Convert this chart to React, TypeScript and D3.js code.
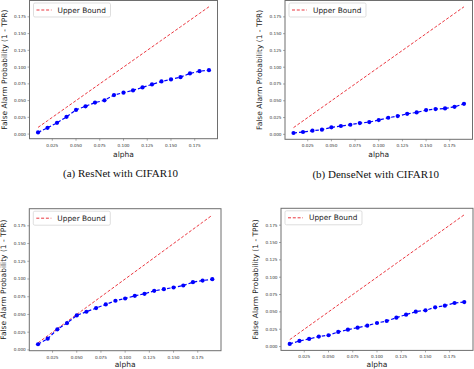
import React from "react";
import * as d3 from "d3";

const alpha = [0.01, 0.02, 0.03, 0.04, 0.05, 0.06, 0.07, 0.08, 0.09, 0.1, 0.11, 0.12, 0.13, 0.14, 0.15, 0.16, 0.17, 0.18, 0.19];
const upperBound = [0.01, 0.02, 0.03, 0.04, 0.05, 0.06, 0.07, 0.08, 0.09, 0.1, 0.11, 0.12, 0.13, 0.14, 0.15, 0.16, 0.17, 0.18, 0.19];
const resnetCifar10 = [0.0025, 0.0094, 0.0168, 0.0257, 0.0361, 0.0415, 0.047, 0.0504, 0.0583, 0.0618, 0.0652, 0.0697, 0.0741, 0.0786, 0.0816, 0.085, 0.0905, 0.0939, 0.0954];
const densenetCifar10 = [0.002, 0.0035, 0.0054, 0.0069, 0.0104, 0.0124, 0.0143, 0.0168, 0.0183, 0.0213, 0.0247, 0.0272, 0.0306, 0.0326, 0.0361, 0.0376, 0.0386, 0.041, 0.0455];
const panelC = [0.008, 0.0159, 0.029, 0.0379, 0.0487, 0.0538, 0.059, 0.0641, 0.0693, 0.0725, 0.0763, 0.0791, 0.0833, 0.0856, 0.088, 0.0908, 0.0955, 0.0978, 0.0997];
const panelD = [0.0038, 0.0081, 0.011, 0.0144, 0.0163, 0.0211, 0.0244, 0.0273, 0.0302, 0.034, 0.0369, 0.0417, 0.046, 0.0503, 0.0523, 0.0566, 0.059, 0.0628, 0.0642];

const xTicks = [0.025, 0.05, 0.075, 0.1, 0.125, 0.15, 0.175];
const yTicks = [0, 0.025, 0.05, 0.075, 0.1, 0.125, 0.15, 0.175];

const legendLabel = "Upper Bound";
const xLabel = "alpha";
const yLabel = "False Alarm Probability (1 - TPR)";

const panels = [
  { key: "a", values: resnetCifar10, caption: "(a) ResNet with CIFAR10", rect: { l: 29.5, r: 217.5, t: 0.5, b: 138.7 } },
  { key: "b", values: densenetCifar10, caption: "(b) DenseNet with CIFAR10", rect: { l: 285, r: 472.5, t: 0.5, b: 139.3 } },
  { key: "c", values: panelC, caption: "", rect: { l: 29.3, r: 221, t: 208.7, b: 350.7 } },
  { key: "d", values: panelD, caption: "", rect: { l: 281, r: 473, t: 208.3, b: 350.4 } },
];

const SANS = "'DejaVu Sans', sans-serif";
const SERIF = "'Liberation Serif', 'Times New Roman', serif";

function Panel({ values, caption, rect }: any) {
  const xmin = d3.min(alpha)!, xmax = d3.max(alpha)!;
  const xpad = (xmax - xmin) * 0.05;
  const x = d3.scaleLinear().domain([xmin - xpad, xmax + xpad]).range([rect.l, rect.r]);
  const ymin = Math.min(d3.min(values as number[])!, d3.min(upperBound)!);
  const ymax = Math.max(d3.max(values as number[])!, d3.max(upperBound)!);
  const ypad = (ymax - ymin) * 0.05;
  const y = d3.scaleLinear().domain([ymin - ypad, ymax + ypad]).range([rect.b, rect.t]);
  const line = d3.line<number>().x((_, i) => x(alpha[i])).y((d) => y(d));
  const cx = (rect.l + rect.r) / 2;
  const cy = (rect.t + rect.b) / 2;
  const fmt = d3.format(".3f");
  const lgX = rect.l + 4;
  const lgY = rect.t + 2.5;
  const labelY = Math.min(rect.b + 18, 366.5);
  return (
    <g>
      <path d={line(upperBound) || ""} fill="none" stroke="#e8202a" strokeWidth={0.9} strokeDasharray="3,1.8" />
      <path d={line(values) || ""} fill="none" stroke="#0000ff" strokeWidth={1.2} strokeDasharray="3.5,2" />
      {values.map((v: number, i: number) => (
        <circle key={i} cx={x(alpha[i])} cy={y(v)} r={2.1} fill="#0000ff" />
      ))}
      <rect x={rect.l} y={rect.t} width={rect.r - rect.l} height={rect.b - rect.t} fill="none" stroke="#6e6e6e" strokeWidth={1} />
      {yTicks.map((t) => (
        <g key={"y" + t}>
          <line x1={rect.l - 2} x2={rect.l} y1={y(t)} y2={y(t)} stroke="#6e6e6e" strokeWidth={0.6} />
          <text x={rect.l - 3.5} y={y(t)} dy="0.35em" textAnchor="end" fontFamily={SANS} fontSize={4.2} fill="#333">
            {fmt(t)}
          </text>
        </g>
      ))}
      {xTicks.map((t) => (
        <g key={"x" + t}>
          <line x1={x(t)} x2={x(t)} y1={rect.b} y2={rect.b + 2} stroke="#6e6e6e" strokeWidth={0.6} />
          <text x={x(t)} y={rect.b + 8} textAnchor="middle" fontFamily={SANS} fontSize={4.2} fill="#333">
            {fmt(t)}
          </text>
        </g>
      ))}
      <text x={cx} y={labelY} textAnchor="middle" fontFamily={SANS} fontSize={7.5} fill="#222">
        {xLabel}
      </text>
      <text
        transform={`translate(${rect.l - 25.5},${cy}) rotate(-90)`}
        textAnchor="middle"
        dy="0.35em"
        fontFamily={SANS}
        fontSize={7.5}
        fill="#222"
      >
        {yLabel}
      </text>
      <rect x={lgX} y={lgY} width={77} height={14} rx={1.5} fill="#fff" fillOpacity={0.85} stroke="#d0d0d0" strokeWidth={0.7} />
      <line x1={lgX + 3} x2={lgX + 18} y1={lgY + 7} y2={lgY + 7} stroke="#e8202a" strokeWidth={0.9} strokeDasharray="3,1.8" />
      <text x={lgX + 24} y={lgY + 7} dy="0.35em" fontFamily={SANS} fontSize={7.4} fill="#222">
        {legendLabel}
      </text>
      {caption && (
        <text x={cx - 3} y={rect.b + 38.5} textAnchor="middle" fontFamily={SERIF} fontSize={11} fill="#111">
          {caption}
        </text>
      )}
    </g>
  );
}

export default function App() {
  return (
    <svg width={474} height={369} style={{ position: "absolute", left: 0, top: 0, background: "#fff" }}>
      <rect width={474} height={369} fill="#fff" />
      {panels.map((p) => (
        <Panel key={p.key} values={p.values} caption={p.caption} rect={p.rect} />
      ))}
    </svg>
  );
}
